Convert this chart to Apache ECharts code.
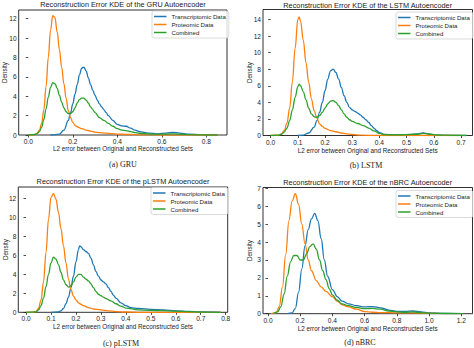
<!DOCTYPE html>
<html>
<head>
<meta charset="utf-8">
<script src="https://cdn.jsdelivr.net/npm/echarts@6/dist/echarts.min.js"></script>
<style>html,body{margin:0;padding:0;background:#fff}#c{width:474px;height:348px}</style>
</head>
<body>
<div id="c"></div>
<script>
// ---------- DATA ----------
const seriesNames = ['Transcriptomic Data', 'Proteomic Data', 'Combined'];
const panelTitles = ['Reconstruction Error KDE of the GRU Autoencoder','Reconstruction Error KDE of the LSTM Autoencoder','Reconstruction Error KDE of the pLSTM Autoencoder','Reconstruction Error KDE of the nBRC Autoencoder'];
const captions = ['(a) GRU','(b) LSTM','(c) pLSTM','(d) nBRC'];
const xAxisTitle = 'L2 error between Original and Reconstructed Sets';
const yAxisTitle = 'Density';

// GRU
const gruTransX = [0.10,0.12,0.14,0.16,0.18,0.19,0.20,0.21,0.22,0.23,0.24,0.25,0.26,0.27,0.28,0.29,0.30,0.31,0.32,0.33,0.34,0.35,0.36,0.38,0.40,0.42,0.44,0.46,0.48,0.50,0.54,0.58,0.62,0.65,0.68,0.72,0.78,0.85];
const gruTransY = [0,0.02,0.1,0.5,1.5,2.3,3.2,4.2,5.2,6.2,6.9,7.0,6.6,5.9,5.2,4.6,4.1,3.6,3.2,2.9,2.6,2.3,2.0,1.5,1.1,0.95,0.9,0.7,0.5,0.35,0.2,0.12,0.2,0.28,0.2,0.08,0.03,0];
const gruProtX = [0.00,0.02,0.03,0.04,0.05,0.06,0.07,0.08,0.09,0.10,0.11,0.12,0.13,0.14,0.15,0.16,0.17,0.18,0.19,0.20,0.21,0.22,0.23,0.24,0.25,0.26,0.28,0.30,0.32,0.35,0.40,0.45,0.50,0.60,0.85];
const gruProtY = [0,0,0.05,0.2,0.5,1.2,2.6,5.0,8.0,10.8,12.3,12.1,10.6,8.8,7.0,5.3,3.8,2.5,1.8,1.3,1.0,0.85,0.75,0.65,0.6,0.5,0.4,0.3,0.25,0.2,0.1,0.05,0.02,0,0];
const gruCombX = [0.00,0.03,0.04,0.05,0.06,0.07,0.08,0.09,0.10,0.11,0.12,0.13,0.14,0.15,0.16,0.17,0.18,0.19,0.20,0.21,0.22,0.23,0.24,0.25,0.26,0.27,0.28,0.29,0.30,0.32,0.34,0.36,0.38,0.40,0.42,0.44,0.46,0.48,0.50,0.55,0.60,0.65,0.70,0.75,0.85];
const gruCombY = [0,0.05,0.15,0.35,0.8,1.6,2.7,3.9,4.9,5.4,5.3,4.8,4.1,3.4,2.8,2.4,2.2,2.2,2.4,2.8,3.3,3.65,3.8,3.8,3.6,3.3,2.9,2.6,2.3,1.8,1.5,1.2,0.9,0.65,0.5,0.45,0.35,0.25,0.18,0.1,0.08,0.12,0.06,0.02,0];

// LSTM
const lstmTransX = [0.10,0.12,0.14,0.16,0.17,0.18,0.19,0.20,0.21,0.22,0.23,0.24,0.25,0.26,0.27,0.28,0.29,0.30,0.31,0.32,0.33,0.34,0.35,0.36,0.37,0.38,0.39,0.40,0.42,0.45,0.48,0.51,0.54,0.56,0.58,0.60,0.65,0.72];
const lstmTransY = [0,0.05,0.3,1.0,1.8,2.8,4.0,5.4,6.8,7.8,8.0,7.6,6.8,5.8,4.8,4.0,3.4,3.1,2.9,2.7,2.5,2.2,1.9,1.6,1.2,0.9,0.6,0.35,0.12,0.08,0.1,0.12,0.2,0.3,0.2,0.08,0.02,0];
const lstmProtX = [0.00,0.03,0.04,0.05,0.06,0.07,0.08,0.09,0.10,0.105,0.11,0.12,0.13,0.14,0.15,0.16,0.17,0.18,0.19,0.20,0.22,0.24,0.26,0.28,0.30,0.33,0.40,0.70];
const lstmProtY = [0,0.05,0.2,0.6,1.5,3.3,6.5,10.5,14.0,14.3,13.8,11.5,8.8,6.4,4.4,3.0,2.1,1.4,1.1,0.85,0.6,0.45,0.3,0.2,0.12,0.05,0,0];
const lstmCombX = [0.00,0.03,0.04,0.05,0.06,0.07,0.08,0.09,0.10,0.105,0.11,0.12,0.13,0.14,0.15,0.16,0.17,0.18,0.19,0.20,0.21,0.22,0.23,0.24,0.25,0.26,0.27,0.28,0.29,0.30,0.32,0.34,0.36,0.38,0.40,0.42,0.46,0.50,0.54,0.56,0.58,0.62,0.68,0.72];
const lstmCombY = [0,0.05,0.15,0.4,0.9,1.8,3.1,4.6,5.9,6.2,6.0,5.3,4.3,3.3,2.6,2.25,2.2,2.4,2.8,3.3,3.8,4.15,4.2,4.0,3.6,3.1,2.6,2.2,1.9,1.7,1.45,1.2,0.9,0.55,0.25,0.1,0.08,0.1,0.15,0.25,0.18,0.05,0.02,0];

// pLSTM
const plTransX = [0.10,0.13,0.14,0.15,0.16,0.17,0.18,0.19,0.20,0.21,0.215,0.22,0.23,0.24,0.25,0.26,0.27,0.28,0.29,0.30,0.31,0.32,0.33,0.34,0.35,0.36,0.38,0.40,0.42,0.45,0.50,0.55,0.60,0.65,0.70,0.78];
const plTransY = [0,0.05,0.15,0.4,0.9,1.6,2.6,3.8,5.3,6.6,7.0,6.9,6.6,6.4,6.2,5.7,5.0,4.3,3.8,3.4,3.2,3.0,2.6,2.2,1.8,1.5,1.0,0.7,0.5,0.4,0.3,0.25,0.15,0.1,0.03,0];
const plProtX = [0.00,0.03,0.04,0.05,0.06,0.07,0.08,0.09,0.10,0.11,0.12,0.13,0.14,0.15,0.16,0.17,0.18,0.19,0.20,0.21,0.22,0.23,0.25,0.27,0.30,0.33,0.36,0.40,0.45,0.78];
const plProtY = [0,0,0.1,0.4,1.3,3.2,6.3,9.8,12.1,12.5,11.9,10.5,8.8,7.0,5.2,3.5,2.4,1.7,1.3,1.0,0.85,0.7,0.5,0.35,0.25,0.15,0.08,0.03,0,0];
const plCombX = [0.00,0.04,0.05,0.06,0.07,0.08,0.09,0.10,0.11,0.12,0.13,0.14,0.15,0.16,0.17,0.18,0.19,0.20,0.21,0.22,0.23,0.24,0.25,0.26,0.27,0.28,0.29,0.30,0.31,0.32,0.34,0.36,0.38,0.40,0.45,0.50,0.55,0.60,0.65,0.70,0.78];
const plCombY = [0,0.05,0.25,0.7,1.5,2.7,4.0,5.2,5.8,5.6,5.0,4.2,3.4,2.9,2.65,2.8,3.2,3.7,4.0,4.0,3.7,3.5,3.3,3.0,2.6,2.2,1.9,1.75,1.6,1.45,1.2,0.9,0.65,0.45,0.25,0.2,0.18,0.12,0.08,0.02,0];

// nBRC
const nbTransX = [0.12,0.15,0.17,0.19,0.21,0.23,0.25,0.27,0.29,0.31,0.33,0.35,0.37,0.40,0.43,0.46,0.50,0.55,0.60,0.65,0.70,0.75,0.80,0.85,0.90,0.95,1.00,1.10,1.21];
const nbTransY = [0,0.05,0.3,1.2,2.5,3.8,4.7,5.3,5.6,5.2,4.2,3.0,2.1,1.35,0.95,0.7,0.55,0.45,0.38,0.4,0.33,0.2,0.13,0.13,0.15,0.1,0.05,0.01,0];
const nbProtX = [0.02,0.05,0.07,0.09,0.11,0.13,0.15,0.17,0.19,0.21,0.23,0.25,0.27,0.30,0.33,0.36,0.40,0.43,0.46,0.50,0.55,0.60,0.65,0.70,0.80,0.90,1.00,1.10,1.21];
const nbProtY = [0,0.05,0.4,1.5,3.3,5.2,6.3,6.7,6.1,5.0,3.9,3.0,2.4,1.85,1.5,1.25,0.95,0.7,0.5,0.38,0.25,0.12,0.08,0.06,0.05,0.05,0.02,0,0];
const nbCombX = [0.03,0.06,0.08,0.10,0.12,0.14,0.16,0.18,0.20,0.22,0.24,0.26,0.28,0.30,0.32,0.34,0.36,0.38,0.40,0.43,0.46,0.50,0.55,0.60,0.65,0.70,0.75,0.80,0.85,0.90,0.95,1.00,1.10,1.21];
const nbCombY = [0,0.1,0.4,1.1,2.1,2.9,3.25,3.25,3.0,3.0,3.35,3.75,3.9,3.6,3.0,2.4,1.9,1.4,1.05,0.75,0.55,0.45,0.35,0.28,0.3,0.25,0.15,0.1,0.08,0.1,0.06,0.03,0.01,0];

// tick labels
const gruXTicks = [0.0,0.2,0.4,0.6,0.8];
const gruYTicks = [0,2,4,6,8,10,12];
const lstmXTicks = [0.0,0.1,0.2,0.3,0.4,0.5,0.6,0.7];
const lstmYTicks = [0,2,4,6,8,10,12,14];
const plXTicks = [0.0,0.1,0.2,0.3,0.4,0.5,0.6,0.7,0.8];
const plYTicks = [0,2,4,6,8,10,12];
const nbXTicks = [0.0,0.2,0.4,0.6,0.8,1.0,1.2];
const nbYTicks = [0,1,2,3,4,5,6,7];

// ---------- LAYOUT / STYLE ----------
const colors = ['#1f77b4', '#ff7f0e', '#2ca02c'];
const FONT = 'Liberation Sans, Arial, sans-serif';
const panels = [
  {grid:{left:18.7, top:10, width:208.3, height:125}, xr:[-0.043,0.893], ymax:12.89, xt:gruXTicks, yt:gruYTicks,
   data:[[gruTransX,gruTransY],[gruProtX,gruProtY],[gruCombX,gruCombY]], leg:{left:152, top:11}},
  {grid:{left:263, top:9.5, width:209.5, height:126}, xr:[-0.028,0.742], ymax:15.2, xt:lstmXTicks, yt:lstmYTicks,
   data:[[lstmTransX,lstmTransY],[lstmProtX,lstmProtY],[lstmCombX,lstmCombY]], leg:{left:396, top:12}},
  {grid:{left:18.3, top:187, width:209.4, height:125.3}, xr:[-0.031,0.808], ymax:13.19, xt:plXTicks, yt:plYTicks,
   data:[[plTransX,plTransY],[plProtX,plProtY],[plCombX,plCombY]], leg:{left:151, top:187.5}},
  {grid:{left:263, top:187.5, width:209.5, height:126.2}, xr:[-0.031,1.27], ymax:7.05, xt:nbXTicks, yt:nbYTicks,
   data:[[nbTransX,nbTransY],[nbProtX,nbProtY],[nbCombX,nbCombY]], leg:{left:396, top:190.5}}
];
const titlePos = [[123,4.5],[367.7,5],[123,181],[367.7,182]];
const captionPos = [[123,164],[366,165],[121,343],[360,342]];
const xlabPos = [[123,148],[367.7,150],[123,326],[367.7,328]];
const ylabPos = [[4,72.5],[249.5,72.5],[5,249.5],[249.5,250.5]];

const grid = [], xAxis = [], yAxis = [], series = [], legend = [], graphic = [];
panels.forEach((p, i) => {
  grid.push(Object.assign({show:true, borderColor:'#1a1a1a', borderWidth:0.9, backgroundColor:'transparent'}, p.grid));
  xAxis.push({type:'value', gridIndex:i, min:p.xr[0], max:p.xr[1],
    axisLine:{show:false}, splitLine:{show:false},
    axisTick:{show:true, customValues:p.xt, length:2.5, lineStyle:{color:'#1a1a1a', width:0.8}},
    axisLabel:{show:true, customValues:p.xt, margin:3, fontSize:6.6, fontFamily:FONT, color:'#1a1a1a', formatter:v=>Number(v).toFixed(1)}});
  yAxis.push({type:'value', gridIndex:i, min:0, max:p.ymax,
    axisLine:{show:false}, splitLine:{show:false},
    axisTick:{show:true, customValues:p.yt, length:2.5, lineStyle:{color:'#1a1a1a', width:0.8}},
    axisLabel:{show:true, customValues:p.yt, margin:2, fontSize:6.6, fontFamily:FONT, color:'#1a1a1a', formatter:v=>String(Math.round(v))}});
  p.data.forEach((d, k) => {
    series.push({type:'line', name:seriesNames[k], xAxisIndex:i, yAxisIndex:i,
      data:d[0].map((x, j) => [x, d[1][j]]), showSymbol:false, symbol:'none',
      smooth:0.4, smoothMonotone:'x', color:colors[k],
      lineStyle:{width:1.3, color:colors[k]}, silent:true, animation:false});
  });
  legend.push({orient:'vertical', left:p.leg.left, top:p.leg.top, data:seriesNames,
    icon:'rect', itemWidth:12.5, itemHeight:1.5, itemGap:0, itemTextGap:3,
    padding:[1.5,3,1.5,2], borderColor:'#ccc', borderWidth:0.7, borderRadius:2,
    backgroundColor:'rgba(255,255,255,0.8)', selectedMode:false,
    textStyle:{fontSize:6.1, fontFamily:FONT, color:'#1a1a1a', lineHeight:8}});
  graphic.push({type:'text', x:titlePos[i][0], y:titlePos[i][1], silent:true,
    style:{text:panelTitles[i], fontSize:7.3, fontFamily:FONT, fill:'#1a1a1a', align:'center', verticalAlign:'middle'}});
  graphic.push({type:'text', x:captionPos[i][0], y:captionPos[i][1], silent:true,
    style:{text:captions[i], fontSize:8, fontFamily:'Liberation Serif, Times New Roman, serif', fill:'#222', align:'center', verticalAlign:'middle'}});
  graphic.push({type:'text', x:xlabPos[i][0], y:xlabPos[i][1], silent:true,
    style:{text:xAxisTitle, fontSize:6.3, fontFamily:FONT, fill:'#1a1a1a', align:'center', verticalAlign:'middle'}});
  graphic.push({type:'text', x:ylabPos[i][0], y:ylabPos[i][1], rotation:Math.PI/2, silent:true,
    style:{text:yAxisTitle, fontSize:6.3, fontFamily:FONT, fill:'#1a1a1a', align:'center', verticalAlign:'middle'}});
});

const chart = echarts.init(document.getElementById('c'), null, {renderer:'svg', width:474, height:348});
chart.setOption({animation:false, backgroundColor:'#fff', grid, xAxis, yAxis, series, legend, graphic});
</script>
</body>
</html>
